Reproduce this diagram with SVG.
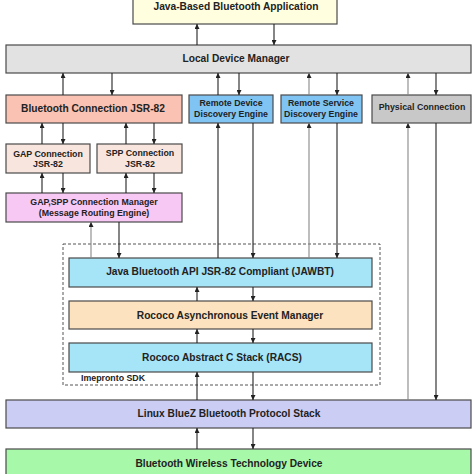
<svg xmlns="http://www.w3.org/2000/svg" width="474" height="474" viewBox="0 0 474 474">
<style>
.b{stroke:#4a4a4a;stroke-width:1.2}
.t{font-family:"Liberation Sans",Arial,sans-serif;font-weight:bold;font-size:10.2px;fill:#222;text-anchor:middle}
.s{font-size:8.8px}
.c{fill:none;stroke:#222;stroke-width:1.1}
.g{stroke:#888}
</style>
<defs>
<marker id="a" viewBox="0 0 6 6" refX="6" refY="3" markerWidth="5" markerHeight="5" markerUnits="userSpaceOnUse" orient="auto">
<path d="M0,0 L6,3 L0,6 z" fill="#222"/>
</marker>
</defs>
<rect x="0" y="0" width="474" height="474" fill="#ffffff"/>
<g id="app"><rect class="b" x="133" y="-1" width="204" height="25" fill="#ffffe0"/><text class="t" x="236" y="10">Java-Based Bluetooth Application</text></g>
<g id="ldm"><rect class="b" x="6" y="45" width="465" height="28" fill="#e2e2e2"/><text class="t" x="236" y="62">Local Device Manager</text></g>
<g id="btc"><rect class="b" x="6" y="95" width="176" height="28" fill="#f9c2b2"/><text class="t" x="93" y="112">Bluetooth Connection JSR-82</text></g>
<g id="rdd"><rect class="b" x="189" y="95" width="84" height="28" fill="#80c4f4"/><text class="t s" x="231" y="106">Remote Device</text><text class="t s" x="231" y="117">Discovery Engine</text></g>
<g id="rsd"><rect class="b" x="281" y="95" width="81" height="28" fill="#80c4f4"/><text class="t s" x="321" y="106">Remote Service</text><text class="t s" x="321" y="117">Discovery Engine</text></g>
<g id="phy"><rect class="b" x="372" y="95" width="99" height="28" fill="#c8c8c8"/><text class="t s" x="422" y="110">Physical Connection</text></g>
<g id="gap"><rect class="b" x="6" y="144" width="84" height="29" fill="#f8e6de"/><text class="t s" x="48" y="157">GAP Connection</text><text class="t s" x="48" y="167">JSR-82</text></g>
<g id="spp"><rect class="b" x="97" y="144" width="85" height="29" fill="#f8e6de"/><text class="t s" x="140" y="156">SPP Connection</text><text class="t s" x="140" y="167">JSR-82</text></g>
<g id="mgr"><rect class="b" x="6" y="193" width="176" height="29" fill="#f8c8f4"/><text class="t s" x="94" y="205">GAP,SPP Connection Manager</text><text class="t s" x="94" y="216">(Message Routing Engine)</text></g>
<g id="sdk"><rect x="63" y="244" width="317" height="141" fill="none" stroke="#555" stroke-width="1" stroke-dasharray="3,2"/><text class="t s" x="81" y="381" style="text-anchor:start">Imepronto SDK</text></g>
<g id="jawbt"><rect class="b" x="69" y="258" width="303" height="29" fill="#a6e4f8"/><text class="t" x="220" y="275">Java Bluetooth API JSR-82 Compliant (JAWBT)</text></g>
<g id="aem"><rect class="b" x="69" y="301" width="303" height="28" fill="#fce2be"/><text class="t" x="230" y="319">Rococo Asynchronous Event Manager</text></g>
<g id="racs"><rect class="b" x="69" y="343" width="303" height="29" fill="#a6e4f8"/><text class="t" x="222" y="361">Rococo Abstract C Stack (RACS)</text></g>
<g id="bluez"><rect class="b" x="6" y="400" width="465" height="28" fill="#cccdf4"/><text class="t" x="229" y="417">Linux BlueZ Bluetooth Protocol Stack</text></g>
<g id="bwtd"><rect class="b" x="6" y="449" width="465" height="30" fill="#a8f8aa"/><text class="t" x="229" y="467">Bluetooth Wireless Technology Device</text></g>
<g id="connectors">
<path class="c" marker-end="url(#a)" d="M197,45V24"/>
<path class="c" marker-end="url(#a)" d="M274,24V45"/>
<path class="c" marker-end="url(#a)" d="M63,95V73"/>
<path class="c" marker-end="url(#a)" d="M112,73V95"/>
<path class="c" marker-end="url(#a)" d="M218,95V73"/>
<path class="c" marker-end="url(#a)" d="M239,73V95"/>
<path class="c g" marker-end="url(#a)" d="M309,95V73"/>
<path class="c" marker-end="url(#a)" d="M337,73V95"/>
<path class="c g" marker-end="url(#a)" d="M408,95V73"/>
<path class="c" marker-end="url(#a)" d="M436,73V95"/>
<path class="c" marker-end="url(#a)" d="M42,144V123"/>
<path class="c" marker-end="url(#a)" d="M63,123V144"/>
<path class="c" marker-end="url(#a)" d="M126,144V123"/>
<path class="c" marker-end="url(#a)" d="M154,123V144"/>
<path class="c" marker-end="url(#a)" d="M42,193V173"/>
<path class="c" marker-end="url(#a)" d="M63,173V193"/>
<path class="c" marker-end="url(#a)" d="M126,193V173"/>
<path class="c" marker-end="url(#a)" d="M154,173V193"/>
<path class="c g" marker-end="url(#a)" d="M91,258V222"/>
<path class="c" marker-end="url(#a)" d="M119,222V258"/>
<path class="c" marker-end="url(#a)" d="M218,258V123"/>
<path class="c" marker-end="url(#a)" d="M253,123V258"/>
<path class="c g" marker-end="url(#a)" d="M309,258V123"/>
<path class="c" marker-end="url(#a)" d="M337,123V258"/>
<path class="c g" marker-end="url(#a)" d="M408,400V123"/>
<path class="c" marker-end="url(#a)" d="M436,123V400"/>
<path class="c" marker-end="url(#a)" d="M197,301V287"/>
<path class="c" marker-end="url(#a)" d="M253,287V301"/>
<path class="c" marker-end="url(#a)" d="M197,343V329"/>
<path class="c" marker-end="url(#a)" d="M253,329V343"/>
<path class="c" marker-end="url(#a)" d="M197,400V372"/>
<path class="c" marker-end="url(#a)" d="M253,372V400"/>
<path class="c" marker-end="url(#a)" d="M197,449V428"/>
<path class="c" marker-end="url(#a)" d="M253,428V449"/>
</g>
</svg>
